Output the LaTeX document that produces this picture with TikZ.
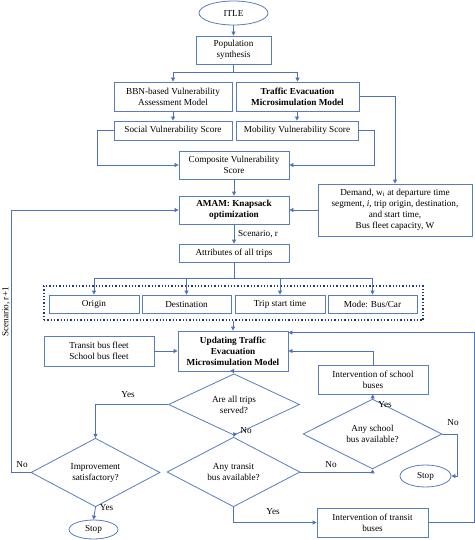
\documentclass[tikz,border=0pt]{standalone}
\usepackage{fontspec}
\setmainfont{Liberation Serif}
\usetikzlibrary{shapes.geometric,arrows.meta,calc}
\definecolor{lineblue}{HTML}{4F73B5}
\definecolor{boxblue}{HTML}{5A7DBB}
\definecolor{dotblue}{HTML}{1F3A6E}
\begin{document}
\begin{tikzpicture}[x=1pt,y=-1pt,
  every node/.style={font=\fontsize{9.2}{11}\selectfont, text=black},
  box/.style={draw=boxblue, line width=0.8pt, fill=white, rectangle, align=center, inner sep=1pt},
  oval/.style={draw=boxblue, line width=0.8pt, fill=white, ellipse, align=center, inner sep=0pt},
  decision/.style={draw=boxblue, line width=0.8pt, fill=white, diamond, align=center, inner sep=0pt},
  conn/.style={draw=lineblue, line width=0.8pt},
  arr/.style={conn, -{Triangle[length=4pt,width=4pt]}},
  lbl/.style={inner sep=1pt}]
\useasboundingbox (0,0) rectangle (474,540);
% nodes
\node[oval, minimum width=69pt, minimum height=24pt] (itle) at (233.5,13) {ITLE};
\node[box, minimum width=75pt, minimum height=28pt] (pop) at (233.5,50) {Population\\synthesis};
\node[box, minimum width=118pt, minimum height=29pt] (bbn) at (173,96.5) {BBN-based Vulnerability\\Assessment Model};
\node[box, minimum width=123pt, minimum height=29pt] (temm) at (297.5,96.5) {\textbf{Traffic Evacuation}\\\textbf{Microsimulation Model}};
\node[box, minimum width=118pt, minimum height=19pt] (svs) at (173,130.5) {Social Vulnerability Score};
\node[box, minimum width=122pt, minimum height=19pt] (mvs) at (297,130.5) {Mobility Vulnerability Score};
\node[box, minimum width=110pt, minimum height=28pt] (cvs) at (234,165) {Composite Vulnerability\\Score};
\node[box, minimum width=110pt, minimum height=28pt] (amam) at (234,210) {\textbf{AMAM: Knapsack}\\\textbf{optimization}};
\node[box, minimum width=154pt, minimum height=52pt] (demand) at (395,210) {Demand, w\textsubscript{i} at departure time\\segment, \textit{i}, trip origin, destination,\\and start time,\\Bus fleet capacity, W};
\node[box, minimum width=110pt, minimum height=18pt] (attr) at (234,253) {Attributes of all trips};
\node[draw=dotblue, line width=1.3pt, dotted, rectangle, minimum width=379pt, minimum height=34pt, inner sep=0pt] (dotbox) at (233.5,303) {};
\node[box, minimum width=90pt, minimum height=18pt] (origin) at (94,304) {Origin};
\node[box, minimum width=89pt, minimum height=18pt] (dest) at (186.5,304) {Destination};
\node[box, minimum width=90pt, minimum height=18pt] (trip) at (280,304) {Trip start time};
\node[box, minimum width=89pt, minimum height=18pt] (mode) at (372.5,304) {Mode: Bus/Car};
\node[box, minimum width=110pt, minimum height=40pt] (utem) at (233,351) {\textbf{Updating Traffic}\\\textbf{Evacuation}\\\textbf{Microsimulation Model}};
\node[box, minimum width=110pt, minimum height=30pt] (fleet) at (99,351) {Transit bus fleet\\School bus fleet};
\node[box, minimum width=110pt, minimum height=29pt] (sint) at (373,379.5) {Intervention of school\\buses};
\node[decision, minimum width=131pt, minimum height=37pt] (served) at (234,404.5) {Are all trips\\served?};
\node[decision, minimum width=129pt, minimum height=49pt] (impr) at (95.5,472.5) {Improvement\\satisfactory?};
\node[decision, minimum width=133pt, minimum height=50pt] (tdia) at (233.5,472) {Any transit\\bus available?};
\node[decision, minimum width=139pt, minimum height=40pt] (sdia) at (372.5,434) {Any school\\bus available?};
\node[oval, minimum width=51pt, minimum height=22pt] (stoptwo) at (425.5,476) {Stop};
\node[oval, minimum width=49pt, minimum height=19pt] (stopone) at (93.5,529.5) {Stop};
\node[box, minimum width=111pt, minimum height=29pt] (tint) at (372.5,522.5) {Intervention of transit\\buses};
% junction coordinates
\coordinate (jya) at (0,72);
\coordinate (jyb) at (0,278);
\coordinate (uin) at ($(utem.north east)+(0,2)$);
% connectors
\draw[arr] (itle.south) -- (pop.north);
\draw[conn] (pop.south) -- (pop.south |- jya);
\draw[arr] (pop.south |- jya) -| (bbn.north);
\draw[arr] (pop.south |- jya) -| (temm.north);
\draw[arr] (temm.east) -| (demand.north);
\draw[arr] (bbn.south) -- (svs.north);
\draw[arr] (temm.south) -- (mvs.north |- temm.south) -- (mvs.north);
\draw[arr] (svs.west) -- ++(-16,0) |- (cvs.west);
\draw[arr] (mvs.east) -- ++(16,0) |- (cvs.east);
\draw[arr] (cvs.south) -- (amam.north);
\draw[arr] (demand.west) -- (amam.east);
\draw[arr] (amam.south) -- (attr.north);
\node[lbl] (scenr) at (258,234) {Scenario, r};
\draw[conn] (attr.south) -- (attr.south |- jyb);
\draw[arr] (attr.south |- jyb) -| (origin.north);
\draw[arr] (attr.south |- jyb) -| (dest.north);
\draw[arr] (attr.south |- jyb) -| (trip.north);
\draw[arr] (attr.south |- jyb) -| (mode.north);
\draw[arr] (dotbox.south -| utem.north) -- (utem.north);
\draw[arr] (fleet.east) -- (utem.west);
\draw[arr] (utem.south) -- (served.north);
\draw[arr] (served.west) -| (impr.north);
\node[lbl] (yesa) at (128,395) {Yes};
\draw[arr] (impr.west) -- ++(-19,0) |- (amam.west);
\node[lbl] (noa) at (22,465) {No};
\node[lbl, rotate=90] (scen) at (6,312) {Scenario, r+1};
\draw[arr] (impr.south) -- (stopone.north);
\node[lbl] (yesc) at (106.5,507.5) {Yes};
\draw[arr] (served.south) -- (tdia.north);
\node[lbl] (nod) at (246,431) {No};
\draw[arr] (tdia.east) -| (sdia.south);
\node[lbl] (nob) at (331,465) {No};
\draw[arr] (tdia.south) |- (tint.west);
\node[lbl] (yesb) at (273,512) {Yes};
\draw[arr] (tint.east) -- ++(45.5,0) |- (uin);
\draw[arr] (sdia.north) -- (sint.south);
\node[lbl] (yesd) at (385,405) {Yes};
\draw[arr] (sint.north) |- (utem.east);
\draw[arr] (sdia.east) -- ++(15,0) |- (stoptwo.east);
\node[lbl] (noc) at (453,423) {No};
\end{tikzpicture}
\end{document}
